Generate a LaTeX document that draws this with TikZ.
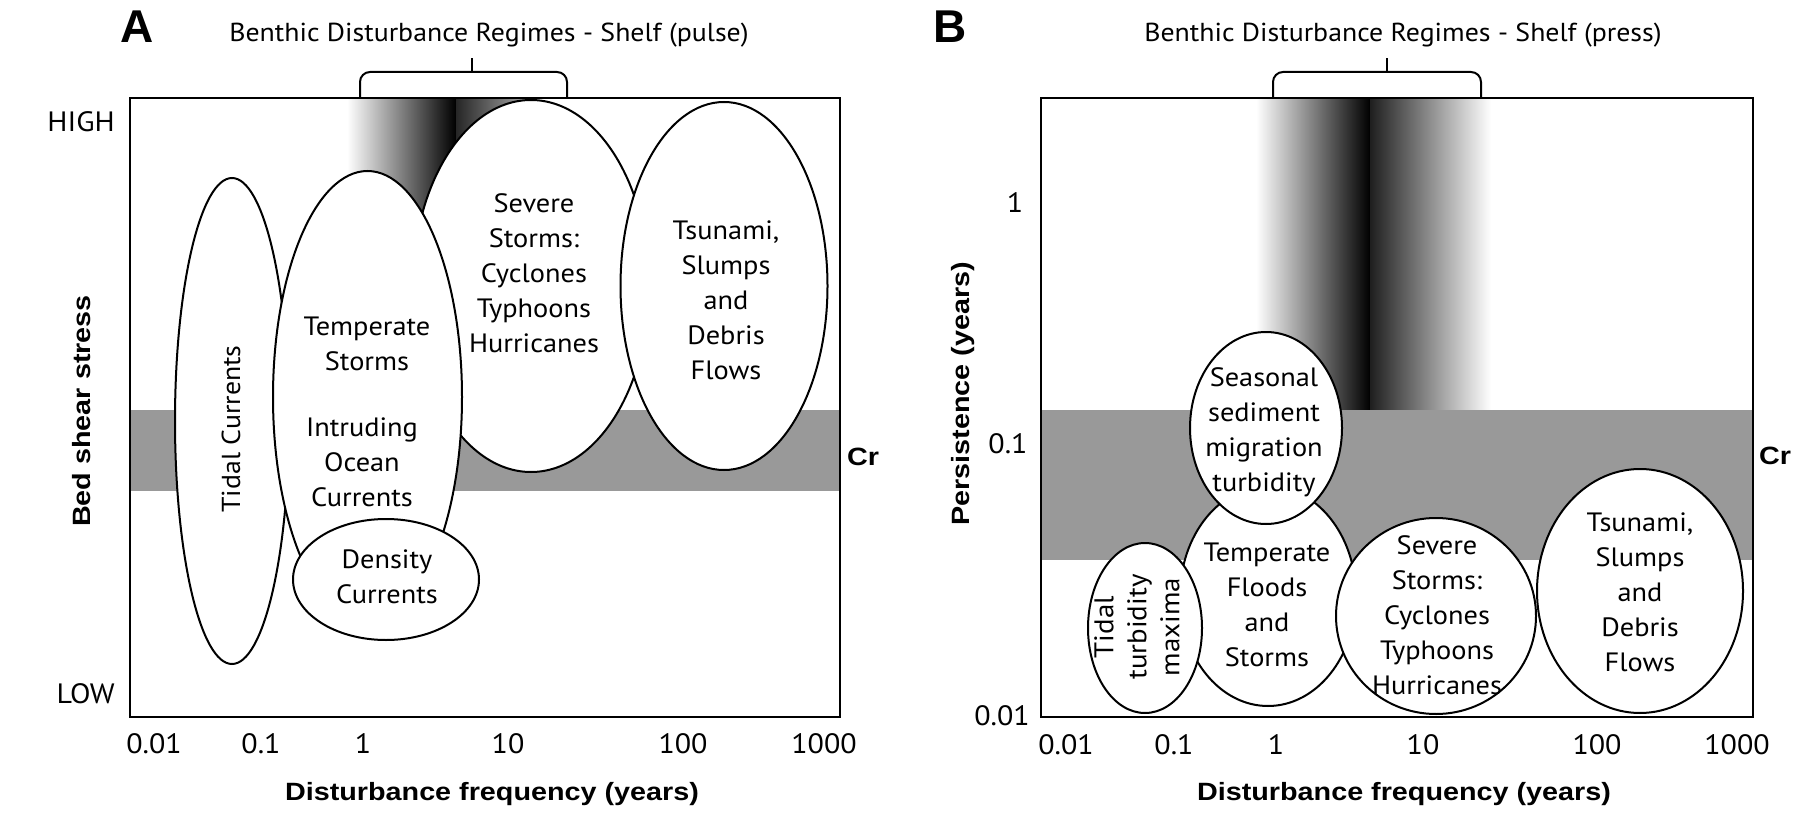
\documentclass[tikz,border=0pt]{standalone}
\usepackage{fontspec}
\setmainfont{PT Sans}[FakeStretch=1.07]
\newfontfamily\arialfont{Liberation Sans}
\newfontfamily\arialwide{Liberation Sans}[FakeStretch=1.15]
\definecolor{bandgray}{RGB}{153,153,153}
\tikzset{
  lbl/.style={font=\fontsize{26.5}{35}\selectfont, align=center, inner sep=0pt},
  ticklbl/.style={font=\fontsize{28}{30}\selectfont, anchor=base, inner sep=0pt},
  ttl/.style={font=\fontsize{26}{30}\selectfont, anchor=base, inner sep=0pt},
  axlbl/.style={font=\arialwide\bfseries\fontsize{25}{30}\selectfont, inner sep=0pt},
  panel/.style={font=\arialfont\bfseries\fontsize{46}{50}\selectfont, anchor=base, inner sep=0pt},
  ell/.style={draw=black, line width=2pt, fill=white},
  frame/.style={draw=black, line width=2.5pt},
  bracket/.style={draw=black, line width=2pt, rounded corners=10pt},
  stem/.style={draw=black, line width=2pt},
}
\begin{document}
\begin{tikzpicture}[x=1pt,y=-1pt]
\useasboundingbox (0,0) rectangle (1796,821);
\fill[white] (0,0) rectangle (1796,821);

% ================= Panel A =================
\shade[left color=white,right color=black] (347,98) rectangle (456,240);
\shade[left color=black!85,right color=black!32] (456,98) rectangle (531,240);
\fill[bandgray] (130,410) rectangle (840,491);

\path[ell] (531,286) ellipse [x radius=118pt, y radius=186pt];
\path[ell] (724,286) ellipse [x radius=103.5pt, y radius=184pt];
\path[ell] (232,421) ellipse [x radius=57pt, y radius=243pt];
\path[ell] (367.5,397) ellipse [x radius=94.5pt, y radius=226pt];
\path[ell] (386,579.5) ellipse [x radius=93pt, y radius=60.5pt];

\draw[frame] (130,98) rectangle (840,717);
\draw[bracket] (360,98) -- (360,72) -- (567,72) -- (567,98);
\draw[stem] (472,72) -- (472,58);

\node[lbl, rotate=90, font=\fontsize{26}{35}\selectfont] (tidalA) at (231,429) {Tidal Currents};
\node[lbl] (tempA) at (367,344) {Temperate\\Storms};
\node[lbl] (intrA) at (362,462) {Intruding\\Ocean\\Currents};
\node[lbl] (densA) at (387,577) {Density\\Currents};
\node[lbl] (sevA) at (534,273) {Severe\\Storms:\\Cyclones\\Typhoons\\Hurricanes};
\node[lbl] (tsuA) at (726,300) {Tsunami,\\Slumps\\and\\Debris\\Flows};

\node[panel] (labA) at (137,43) {A};
\node[ttl] (titleA) at (489,42) {Benthic Disturbance Regimes - Shelf (pulse)};
\node[ticklbl, anchor=base east] (high) at (115,132) {HIGH};
\node[ticklbl, anchor=base east] (low) at (115,703) {LOW};
\node[axlbl, anchor=base] (crA) at (863,465) {Cr};
\node[axlbl, rotate=90] (yA) at (82,411) {Bed shear stress};
\node[axlbl, anchor=base] (xA) at (492,800) {Disturbance frequency (years)};
\node[ticklbl] (xa1) at (154,753) {0.01};
\node[ticklbl] (xa2) at (261,753) {0.1};
\node[ticklbl] (xa3) at (363,753) {1};
\node[ticklbl] (xa4) at (508,753) {10};
\node[ticklbl] (xa5) at (683,753) {100};
\node[ticklbl] (xa6) at (824,753) {1000};

% ================= Panel B =================
\shade[left color=white,right color=black] (1256,98) rectangle (1370,410);
\shade[left color=black!88,right color=white] (1370,98) rectangle (1491,410);
\fill[bandgray] (1041,410) rectangle (1753,560);

\path[ell] (1268,596) ellipse [x radius=88pt, y radius=110pt];
\path[ell] (1145,628) ellipse [x radius=57pt, y radius=85pt];
\path[ell] (1436,616) ellipse [x radius=100pt, y radius=98pt];
\path[ell] (1640,591) ellipse [x radius=103pt, y radius=122pt];
\path[ell] (1266,428) ellipse [x radius=76pt, y radius=96pt];

\draw[frame] (1041,98) rectangle (1753,717);
\draw[bracket] (1273,98) -- (1273,72) -- (1481,72) -- (1481,98);
\draw[stem] (1387,72) -- (1387,58);

\node[lbl] (seasB) at (1264,432) {Seasonal\\sediment\\migration\\turbidity};
\node[lbl, rotate=90, font=\fontsize{27}{33}\selectfont] (tidalB) at (1137,627) {Tidal\\turbidity\\maxima};
\node[lbl] (tempB) at (1267,605) {Temperate\\Floods\\and\\Storms};
\node[lbl] (sevB) at (1437,615) {Severe\\Storms:\\Cyclones\\Typhoons\\Hurricanes};
\node[lbl] (tsuB) at (1640,592) {Tsunami,\\Slumps\\and\\Debris\\Flows};

\node[panel] (labB) at (950,43) {B};
\node[ttl] (titleB) at (1403,42) {Benthic Disturbance Regimes - Shelf (press)};
\node[axlbl, anchor=base] (crB) at (1775,464) {Cr};
\node[axlbl, rotate=90] (yB) at (963,394) {Persistence (years)};
\node[axlbl, anchor=base] (xB) at (1404,800) {Disturbance frequency (years)};
\node[ticklbl] (yb1) at (1015,212) {1};
\node[ticklbl] (yb2) at (1008,453) {0.1};
\node[ticklbl] (yb3) at (1002,725) {0.01};
\node[ticklbl] (xb1) at (1066,754) {0.01};
\node[ticklbl] (xb2) at (1174,754) {0.1};
\node[ticklbl] (xb3) at (1276,754) {1};
\node[ticklbl] (xb4) at (1423,754) {10};
\node[ticklbl] (xb5) at (1597,754) {100};
\node[ticklbl] (xb6) at (1737,754) {1000};
\end{tikzpicture}
\end{document}
